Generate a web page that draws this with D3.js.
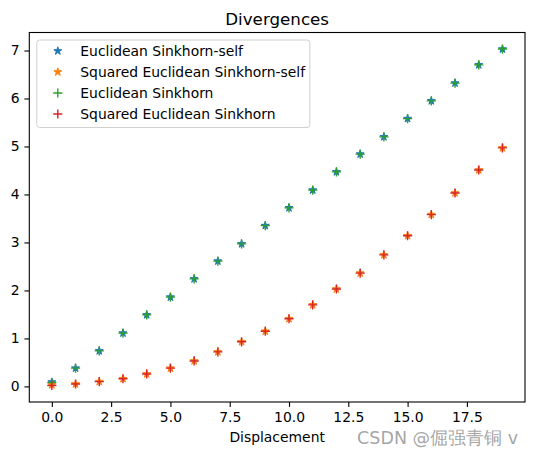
<!DOCTYPE html>
<html>
<head>
<meta charset="utf-8">
<script src="https://cdn.jsdelivr.net/npm/d3@7"></script>
<style>
  body { margin: 0; background: #fff; }
  text { font-family: "DejaVu Sans", sans-serif; }
</style>
</head>
<body>
<div id="chart"></div>
<script>
// 位移
const displacement = [0, 1, 2, 3, 4, 5, 6, 7, 8, 9, 10, 11, 12, 13, 14, 15, 16, 17, 18, 19]
// 各散度
const euclideanSelf = [0.09, 0.38, 0.74, 1.11, 1.49, 1.86, 2.24, 2.61, 2.97, 3.35, 3.72, 4.09, 4.47, 4.84, 5.2, 5.58, 5.95, 6.32, 6.7, 7.03]
const sqEuclideanSelf = [0.03, 0.05, 0.1, 0.16, 0.26, 0.38, 0.53, 0.72, 0.93, 1.15, 1.41, 1.7, 2.03, 2.36, 2.74, 3.14, 3.58, 4.03, 4.51, 4.97]
const euclidean = [0.08, 0.38, 0.74, 1.11, 1.49, 1.86, 2.24, 2.61, 2.97, 3.35, 3.72, 4.09, 4.47, 4.84, 5.2, 5.58, 5.95, 6.32, 6.7, 7.03]
const sqEuclidean = [0.02, 0.05, 0.1, 0.16, 0.26, 0.38, 0.53, 0.72, 0.93, 1.15, 1.41, 1.7, 2.03, 2.36, 2.74, 3.14, 3.58, 4.03, 4.51, 4.97]
// 刻度
const xTicks = [0, 2.5, 5, 7.5, 10, 12.5, 15, 17.5]
const yTicks = [0, 1, 2, 3, 4, 5, 6, 7]

const series = [
  { label: "Euclidean Sinkhorn-self", values: euclideanSelf, color: "#1f77b4", marker: "star" },
  { label: "Squared Euclidean Sinkhorn-self", values: sqEuclideanSelf, color: "#ff7f0e", marker: "star" },
  { label: "Euclidean Sinkhorn", values: euclidean, color: "#2ca02c", marker: "plus" },
  { label: "Squared Euclidean Sinkhorn", values: sqEuclidean, color: "#d62728", marker: "plus" },
]

const width = 534, height = 455
const margin = { left: 29.3, right: 9, top: 32.5, bottom: 53 }

const svg = d3.select("#chart").append("svg")
  .attr("width", width)
  .attr("height", height)

// 比例尺
const x = d3.scaleLinear().domain([-0.95, 19.95]).range([margin.left, width - margin.right])
const y = d3.scaleLinear().domain([-0.325, 7.375]).range([height - margin.bottom, margin.top])

// 标记
const starPath = d3.symbol(d3.symbolStar, 4.17 * 4.17 / 0.8908130915292852)()
const plusPath = (r => `M${-r},0H${r}M0,${-r}V${r}`)(4.6)

// 坐标轴
const xAxis = d3.axisBottom(x).tickValues(xTicks).tickFormat(d3.format(".1f")).tickSize(4.9).tickPadding(4.9)
const yAxis = d3.axisLeft(y).tickValues(yTicks).tickFormat(d3.format("d")).tickSize(4.9).tickPadding(4.9)

svg.append("g")
  .attr("transform", `translate(0,${height - margin.bottom})`)
  .call(xAxis)
  .call(g => g.select(".domain").remove())
  .call(g => g.selectAll(".tick line").attr("stroke", "#000").attr("stroke-width", 1.1))
  .call(g => g.selectAll(".tick text").attr("font-size", 13.9).attr("fill", "#000")
    .attr("font-family", "DejaVu Sans"))

svg.append("g")
  .attr("transform", `translate(${margin.left},0)`)
  .call(yAxis)
  .call(g => g.select(".domain").remove())
  .call(g => g.selectAll(".tick line").attr("stroke", "#000").attr("stroke-width", 1.1))
  .call(g => g.selectAll(".tick text").attr("font-size", 13.9).attr("fill", "#000")
    .attr("font-family", "DejaVu Sans"))

// 数据点
series.forEach(s => {
  const g = svg.append("g")
  g.selectAll("path")
    .data(displacement)
    .enter()
    .append("path")
    .attr("d", s.marker === "star" ? starPath : plusPath)
    .attr("transform", (d, i) => `translate(${x(d)},${y(s.values[i])})`)
    .attr("fill", s.marker === "star" ? s.color : "none")
    .attr("stroke", s.color)
    .attr("stroke-width", s.marker === "star" ? 1.0 : 1.4)
    .attr("stroke-linejoin", "miter")
})

// 外框
svg.append("rect")
  .attr("x", margin.left)
  .attr("y", margin.top)
  .attr("width", width - margin.right - margin.left)
  .attr("height", height - margin.bottom - margin.top)
  .attr("fill", "none")
  .attr("stroke", "#000")
  .attr("stroke-width", 1.1)

// 图例
const legend = svg.append("g").attr("transform", `translate(${margin.left + 7.5},${margin.top + 7.5})`)
legend.append("rect")
  .attr("x", 0).attr("y", 0)
  .attr("width", 273).attr("height", 87.5)
  .attr("rx", 2.8)
  .attr("fill", "#fff")
  .attr("fill-opacity", 0.8)
  .attr("stroke", "#d0d0d0")
  .attr("stroke-width", 1)

legend.selectAll(".item")
  .data(series)
  .enter()
  .append("g")
  .attr("class", "item")
  .attr("transform", (d, i) => `translate(0,${11 + i * 21})`)
  .call(g => {
    g.append("path")
      .attr("d", d => d.marker === "star" ? starPath : plusPath)
      .attr("transform", "translate(21,0)")
      .attr("fill", d => d.marker === "star" ? d.color : "none")
      .attr("stroke", d => d.color)
      .attr("stroke-width", d => d.marker === "star" ? 1.0 : 1.4)
    g.append("text")
      .text(d => d.label)
      .attr("x", 43.5)
      .attr("dy", "0.35em")
      .attr("font-size", 13.9)
      .attr("fill", "#000")
  })

// 标题
svg.append("text")
  .text("Divergences")
  .attr("x", (margin.left + width - margin.right) / 2)
  .attr("y", margin.top - 8)
  .attr("text-anchor", "middle")
  .attr("font-size", 16.7)
  .attr("fill", "#000")

// x 轴标题
svg.append("text")
  .text("Displacement")
  .attr("x", (margin.left + width - margin.right) / 2)
  .attr("y", 442)
  .attr("text-anchor", "middle")
  .attr("font-size", 13.9)
  .attr("fill", "#000")

// 水印
svg.append("text")
  .text("CSDN @倔强青铜 v")
  .attr("x", 518)
  .attr("y", 443.5)
  .attr("text-anchor", "end")
  .attr("font-size", 17.5)
  .attr("font-family", "'Liberation Sans', 'Noto Sans CJK SC', sans-serif")
  .attr("fill", "#9a9a9a")
  .attr("fill-opacity", 0.9)
</script>
</body>
</html>
